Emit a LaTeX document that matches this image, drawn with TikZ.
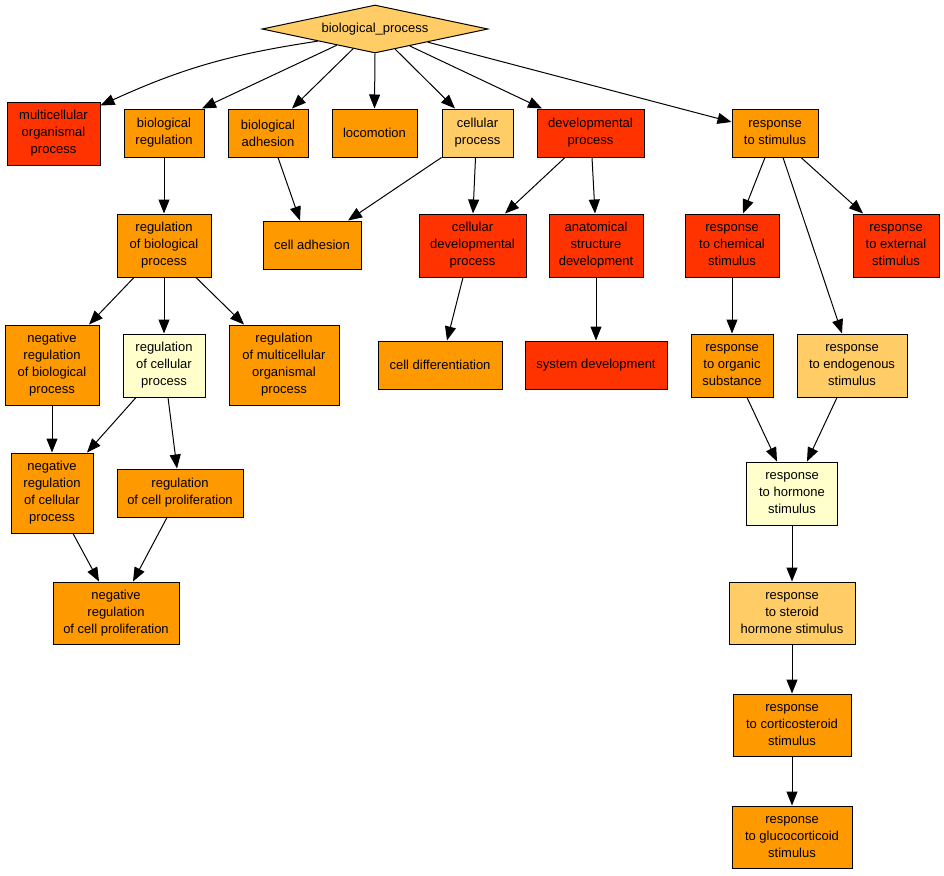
\documentclass[tikz,border=0pt]{standalone}
\usepackage{fontspec}
\setmainfont{Liberation Sans}
\usetikzlibrary{shapes.geometric,arrows.meta}
\definecolor{cred}{HTML}{FF3300}
\definecolor{corange}{HTML}{FF9900}
\definecolor{clight}{HTML}{FFCC66}
\definecolor{cpale}{HTML}{FFFFCC}
\tikzset{
  gobox/.style={draw=black, line width=1pt, rectangle, inner sep=0pt, align=center,
    font=\fontsize{13}{17}\selectfont},
  edge/.style={draw=black, line width=1pt, -{Triangle[length=14pt,width=11pt]}}
}
\begin{document}
\begin{tikzpicture}[x=1pt,y=-1pt]
\useasboundingbox (0,0) rectangle (944,875);
% root
\node[diamond, draw=black, line width=1pt, fill=clight, aspect=4.7, inner sep=0pt,
  minimum width=226, minimum height=48, font=\fontsize{13}{17}\selectfont] (bp) at (375,29) {biological\_process};
% row 1
\node[gobox, fill=cred, minimum width=93, minimum height=63] (mop) at (53.5,133.5) {multicellular\\organismal\\process};
\node[gobox, fill=corange, minimum width=80, minimum height=48] (breg) at (164,133) {biological\\regulation};
\node[gobox, fill=corange, minimum width=80, minimum height=48] (badh) at (268,133) {biological\\adhesion};
\node[gobox, fill=corange, minimum width=85, minimum height=48] (loco) at (374.5,133) {locomotion};
\node[gobox, fill=clight, minimum width=71, minimum height=48] (cproc) at (477.5,133) {cellular\\process};
\node[gobox, fill=cred, minimum width=107, minimum height=48] (dproc) at (590.5,133) {developmental\\process};
\node[gobox, fill=corange, minimum width=86, minimum height=48] (rstim) at (775,133) {response\\to stimulus};
% row 2
\node[gobox, fill=corange, minimum width=94, minimum height=63] (rbp) at (164,245.5) {regulation\\of biological\\process};
\node[gobox, fill=corange, minimum width=98, minimum height=48] (cadh) at (312,245) {cell adhesion};
\node[gobox, fill=cred, minimum width=107, minimum height=63] (cdp) at (472.5,245.5) {cellular\\developmental\\process};
\node[gobox, fill=cred, minimum width=94, minimum height=63] (asd) at (596,245.5) {anatomical\\structure\\development};
\node[gobox, fill=cred, minimum width=94, minimum height=63] (rchem) at (732,245.5) {response\\to chemical\\stimulus};
\node[gobox, fill=cred, minimum width=86, minimum height=63] (rext) at (896,245.5) {response\\to external\\stimulus};
% row 3
\node[gobox, fill=corange, minimum width=94, minimum height=80] (nrbp) at (52,365) {negative\\regulation\\of biological\\process};
\node[gobox, fill=cpale, minimum width=82, minimum height=63] (rcp) at (164,365.5) {regulation\\of cellular\\process};
\node[gobox, fill=corange, minimum width=110, minimum height=80] (rmop) at (284,365) {regulation\\of multicellular\\organismal\\process};
\node[gobox, fill=corange, minimum width=124, minimum height=48] (cdiff) at (440,365) {cell differentiation};
\node[gobox, fill=cred, minimum width=142, minimum height=48] (sysdev) at (596,365) {system development};
\node[gobox, fill=corange, minimum width=82, minimum height=63] (rorg) at (732,365.5) {response\\to organic\\substance};
\node[gobox, fill=clight, minimum width=110, minimum height=63] (rendo) at (852,365.5) {response\\to endogenous\\stimulus};
% row 4
\node[gobox, fill=corange, minimum width=82, minimum height=80] (nrcp) at (52,493) {negative\\regulation\\of cellular\\process};
\node[gobox, fill=corange, minimum width=126, minimum height=48] (rcprol) at (180,493) {regulation\\of cell proliferation};
\node[gobox, fill=cpale, minimum width=91, minimum height=63] (rhorm) at (792,493.5) {response\\to hormone\\stimulus};
% row 5+
\node[gobox, fill=corange, minimum width=126, minimum height=62] (nrcprol) at (116,613) {negative\\regulation\\of cell proliferation};
\node[gobox, fill=clight, minimum width=126, minimum height=62] (rster) at (792,613) {response\\to steroid\\hormone stimulus};
\node[gobox, fill=corange, minimum width=118, minimum height=62] (rcort) at (792,725) {response\\to corticosteroid\\stimulus};
\node[gobox, fill=corange, minimum width=120, minimum height=62] (rgluc) at (792,837) {response\\to glucocorticoid\\stimulus};
% edges from root
\draw[edge] (bp.192) to[bend right=8] ([shift={(0,4)}]mop.north east);
\draw[edge] (bp.203) -- ([shift={(38,0)}]breg.north);
\draw[edge] (bp.222) -- ([shift={(24,0)}]badh.north);
\draw[edge] (bp.south) -- (loco.north);
\draw[edge] (bp.315) -- ([shift={(-22.5,0)}]cproc.north);
\draw[edge] (bp.334) -- ([shift={(-48.5,0)}]dproc.north);
\draw[edge] (bp.346) -- ([shift={(0,-11)}]rstim.west);
% row 1 -> row 2
\draw[edge] (breg.south) -- (rbp.north);
\draw[edge] ([shift={(10,0)}]badh.south) -- ([shift={(-12,0)}]cadh.north);
\draw[edge] (cproc.south west) -- ([shift={(36,0)}]cadh.north);
\draw[edge] ([shift={(-2,0)}]cproc.south) -- ([shift={(0.5,0)}]cdp.north);
\draw[edge] ([shift={(-25.5,0)}]dproc.south) -- ([shift={(32.5,0)}]cdp.north);
\draw[edge] ([shift={(1.5,0)}]dproc.south) -- ([shift={(-1,0)}]asd.north);
\draw[edge] ([shift={(-10,0)}]rstim.south) -- ([shift={(11,0)}]rchem.north);
\draw[edge] ([shift={(8,0)}]rstim.south) -- ([shift={(-10,0)}]rendo.north);
\draw[edge] ([shift={(26,0)}]rstim.south) -- ([shift={(-33,0)}]rext.north);
% row 2 -> row 3
\draw[edge] ([shift={(-30,0)}]rbp.south) -- ([shift={(37,0)}]nrbp.north);
\draw[edge] (rbp.south) -- (rcp.north);
\draw[edge] ([shift={(32,0)}]rbp.south) -- ([shift={(-40,0)}]rmop.north);
\draw[edge] ([shift={(-9.5,0)}]cdp.south) -- ([shift={(7,0)}]cdiff.north);
\draw[edge] (asd.south) -- (sysdev.north);
\draw[edge] (rchem.south) -- (rorg.north);
% row 3 -> row 4
\draw[edge] (nrbp.south) -- (nrcp.north);
\draw[edge] ([shift={(-28,0)}]rcp.south) -- ([shift={(35,0)}]nrcp.north);
\draw[edge] ([shift={(4,0)}]rcp.south) -- ([shift={(-3,0)}]rcprol.north);
\draw[edge] ([shift={(15,0)}]rorg.south) -- ([shift={(-15,0)}]rhorm.north);
\draw[edge] ([shift={(-15,0)}]rendo.south) -- ([shift={(15,0)}]rhorm.north);
% row 4 -> row 5
\draw[edge] ([shift={(21,0)}]nrcp.south) -- ([shift={(-17,0)}]nrcprol.north);
\draw[edge] ([shift={(-13,0)}]rcprol.south) -- ([shift={(17,0)}]nrcprol.north);
\draw[edge] (rhorm.south) -- (rster.north);
\draw[edge] (rster.south) -- (rcort.north);
\draw[edge] (rcort.south) -- (rgluc.north);
\end{tikzpicture}
\end{document}
